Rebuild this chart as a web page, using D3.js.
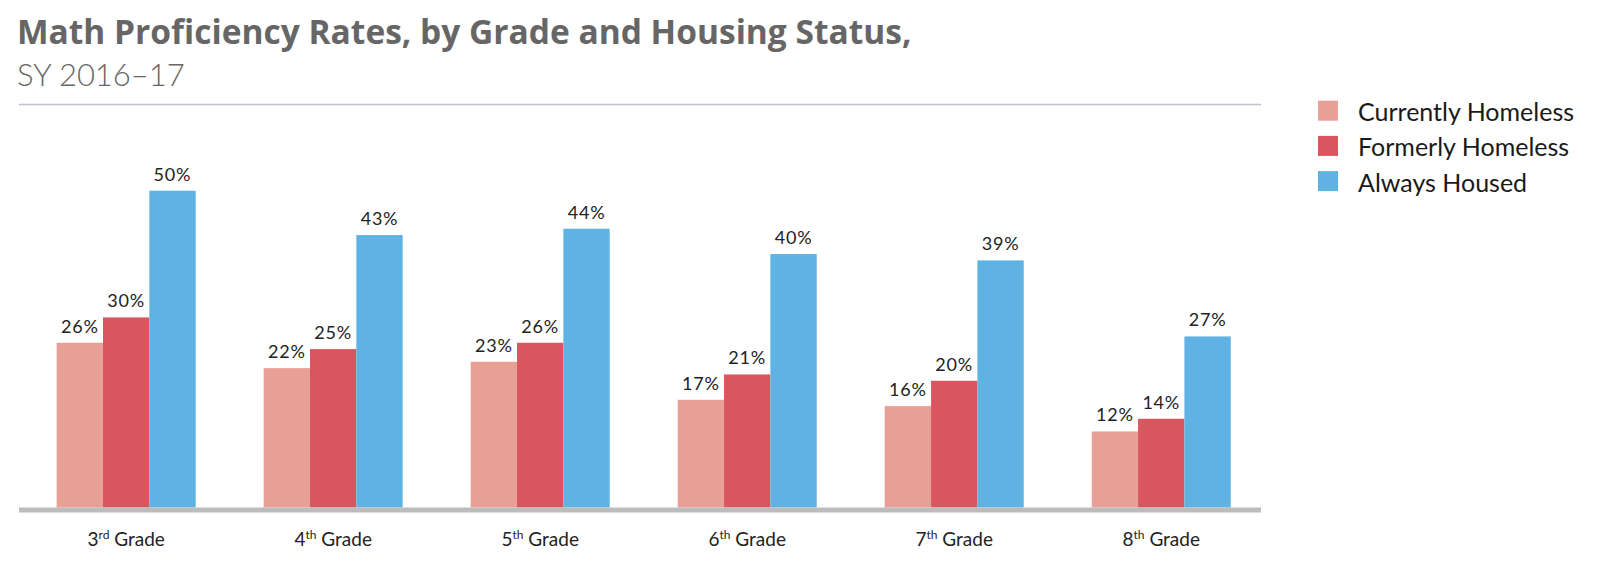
<!DOCTYPE html>
<html>
<head>
<meta charset="utf-8">
<script src="https://cdn.jsdelivr.net/npm/d3@7"></script>
<style>
  body { margin: 0; background: #fff; }
  svg { display: block; font-family: Lato, "Noto Sans", sans-serif; }
</style>
</head>
<body>
<div id="chart"></div>
<script>
// chart data
const gradeNumbers = ["3", "4", "5", "6", "7", "8"];
const gradeSuffixes = ["rd", "th", "th", "th", "th", "th"];
const seriesNames = ["Currently Homeless", "Formerly Homeless", "Always Housed"];
const currentlyHomeless = [26, 22, 23, 17, 16, 12];
const formerlyHomeless = [30, 25, 26, 21, 20, 14];
const alwaysHoused = [50, 43, 44, 40, 39, 27];
const seriesColors = ["#e79f96", "#d9565f", "#5eb3e2"];

const width = 1600;
const height = 571;

const svg = d3.select("#chart")
  .append("svg")
  .attr("width", width)
  .attr("height", height);

// title block
svg.append("text")
  .attr("x", 17)
  .attr("y", 44)
  .attr("fill", "#666")
  .style("font-family", "'Open Sans', sans-serif")
  .style("font-size", "33.5px")
  .style("font-weight", 700)
  .text("Math Proficiency Rates, by Grade and Housing Status,");

svg.append("text")
  .attr("x", 17)
  .attr("y", 86)
  .attr("fill", "#666")
  .style("font-size", "31px")
  .style("font-weight", 300)
  .text("SY 2016\u201317");

svg.append("line")
  .attr("x1", 19)
  .attr("x2", 1261)
  .attr("y1", 104.5)
  .attr("y2", 104.5)
  .attr("stroke", "#c2bfd3")
  .attr("stroke-width", 1.5);

// scales
const x0 = d3.scaleBand()
  .domain(gradeNumbers)
  .range([22.7, 1264.7])
  .paddingInner(0.3285)
  .paddingOuter(0.164);

const x1 = d3.scaleBand()
  .domain(seriesNames)
  .range([0, x0.bandwidth()]);

const y = d3.scaleLinear()
  .domain([0, 50])
  .range([507.5, 190.7]);

const rows = gradeNumbers.map((g, i) => ({
  grade: g,
  values: [currentlyHomeless[i], formerlyHomeless[i], alwaysHoused[i]]
}));

const groups = svg.append("g")
  .attr("class", "groups")
  .selectAll("g")
  .data(rows)
  .join("g")
  .attr("transform", d => `translate(${x0(d.grade)},0)`);

groups.selectAll("rect")
  .data(d => d.values.map((v, j) => ({ name: seriesNames[j], value: v, color: seriesColors[j] })))
  .join("rect")
  .attr("x", d => x1(d.name))
  .attr("y", d => y(d.value))
  .attr("width", x1.bandwidth())
  .attr("height", d => y(0) - y(d.value))
  .attr("fill", d => d.color);

groups.selectAll("text.value")
  .data(d => d.values.map((v, j) => ({ name: seriesNames[j], value: v })))
  .join("text")
  .attr("class", "value")
  .attr("x", d => x1(d.name) + x1.bandwidth() / 2)
  .attr("y", d => y(d.value) - 10)
  .attr("text-anchor", "middle")
  .attr("fill", "#222")
  .style("font-size", "18px")
  .style("letter-spacing", "0.8px")
  .text(d => d.value + "%");

// baseline
svg.append("line")
  .attr("x1", 19)
  .attr("x2", 1261)
  .attr("y1", y(0) + 2.5)
  .attr("y2", y(0) + 2.5)
  .attr("stroke", "#bcbcbc")
  .attr("stroke-width", 5);

// grade labels with superscript
const gradeLabel = svg.append("g")
  .attr("class", "grade-labels")
  .selectAll("text")
  .data(gradeNumbers)
  .join("text")
  .attr("x", d => x0(d) + x0.bandwidth() / 2)
  .attr("y", 546)
  .attr("text-anchor", "middle")
  .attr("fill", "#222")
  .style("font-size", "19px");

gradeLabel.append("tspan").text(d => d);
gradeLabel.append("tspan")
  .attr("dy", -7)
  .style("font-size", "12px")
  .text((d, i) => gradeSuffixes[i]);
gradeLabel.append("tspan")
  .attr("dy", 7)
  .text(" Grade");

// legend
const legend = svg.append("g")
  .attr("class", "legend")
  .selectAll("g")
  .data(seriesNames)
  .join("g")
  .attr("transform", (d, i) => `translate(1318,${100.7 + i * 35.2})`);

legend.append("rect")
  .attr("width", 20)
  .attr("height", 20)
  .attr("fill", (d, i) => seriesColors[i]);

legend.append("text")
  .attr("x", 40)
  .attr("y", 20.5)
  .attr("fill", "#1a1a1a")
  .style("font-size", "25px")
  .text(d => d);
</script>
</body>
</html>
